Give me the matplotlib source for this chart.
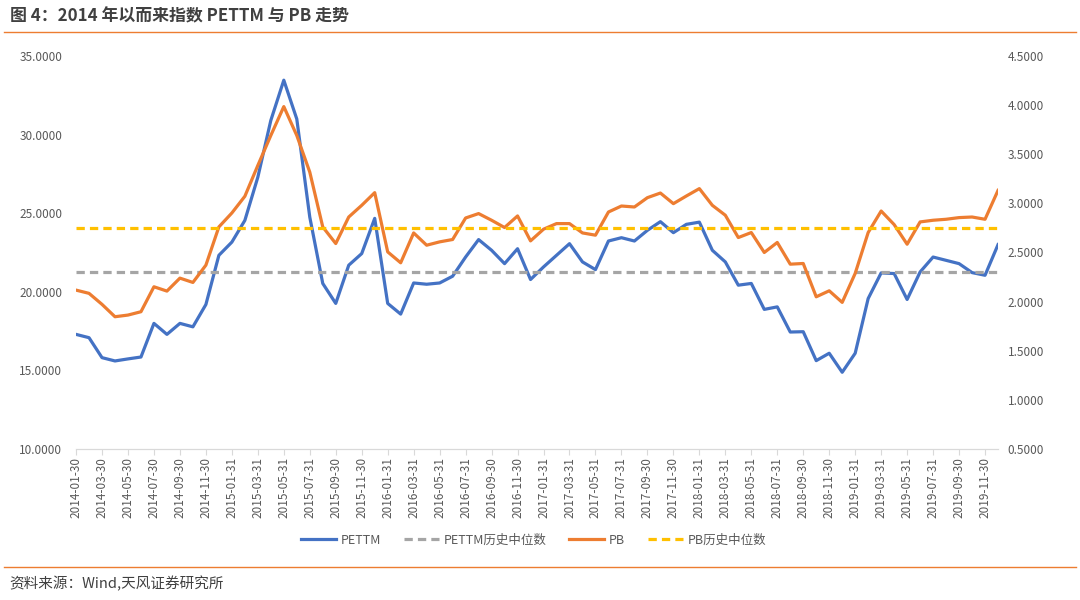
import numpy as np
import matplotlib
matplotlib.use("Agg")
import matplotlib.pyplot as plt
from matplotlib.lines import Line2D
from matplotlib.ticker import FormatStrFormatter

plt.rcParams['font.family'] = ['Noto Sans CJK SC', 'DejaVu Sans']

# 月度数据 2014-01 ~ 2019-12
pe = [17.29, 17.08, 15.81, 15.60, 15.73, 15.85, 17.99, 17.29, 17.99, 17.77, 19.19, 22.32,
      23.16, 24.54, 27.29, 30.90, 33.46, 30.99, 24.75, 20.53, 19.26, 21.69, 22.43, 24.67,
      19.26, 18.58, 20.56, 20.48, 20.56, 20.99, 22.21, 23.32, 22.64, 21.79, 22.74, 20.78,
      21.58, 22.32, 23.06, 21.90, 21.41, 23.23, 23.44, 23.23, 23.91, 24.46, 23.76, 24.29,
      24.43, 22.64, 21.90, 20.42, 20.53, 18.88, 19.04, 17.44, 17.46, 15.62, 16.09, 14.88,
      16.09, 19.57, 21.20, 21.16, 19.51, 21.26, 22.21, 22.00, 21.79, 21.22, 21.05, 23.00]
pb = [2.117, 2.084, 1.972, 1.846, 1.863, 1.897, 2.151, 2.107, 2.239, 2.195, 2.371, 2.760,
      2.902, 3.072, 3.386, 3.691, 3.985, 3.691, 3.318, 2.760, 2.591, 2.861, 2.980, 3.109,
      2.506, 2.395, 2.699, 2.574, 2.608, 2.632, 2.851, 2.896, 2.828, 2.754, 2.872, 2.618,
      2.737, 2.794, 2.794, 2.699, 2.676, 2.912, 2.973, 2.963, 3.058, 3.105, 2.997, 3.075,
      3.150, 2.980, 2.879, 2.652, 2.703, 2.500, 2.602, 2.381, 2.388, 2.049, 2.110, 1.992,
      2.287, 2.703, 2.922, 2.784, 2.584, 2.811, 2.828, 2.838, 2.855, 2.861, 2.838, 3.132]
pe_median = 21.26
pb_median = 2.75

tick_labels = [
    "2014-01-30", "2014-03-30", "2014-05-30", "2014-07-30", "2014-09-30", "2014-11-30",
    "2015-01-31", "2015-03-31", "2015-05-31", "2015-07-31", "2015-09-30", "2015-11-30",
    "2016-01-31", "2016-03-31", "2016-05-31", "2016-07-31", "2016-09-30", "2016-11-30",
    "2017-01-31", "2017-03-31", "2017-05-31", "2017-07-31", "2017-09-30", "2017-11-30",
    "2018-01-31", "2018-03-31", "2018-05-31", "2018-07-31", "2018-09-30", "2018-11-30",
    "2019-01-31", "2019-03-31", "2019-05-31", "2019-07-31", "2019-09-30", "2019-11-30",
]

x = np.arange(len(pe))
text_c = "#595959"

fig = plt.figure(figsize=(10.8, 6), dpi=100)
ax = fig.add_axes([0.0704, 0.2517, 0.8537, 0.655])
ax2 = ax.twinx()

l1, = ax.plot(x, pe, color="#4472C4", lw=2.3, label="PETTM", solid_joinstyle="round")
l2, = ax.plot(x, [pe_median] * len(x), color="#A5A5A5", lw=2.3, dashes=(2.6, 1.6),
              label="PETTM历史中位数")
l3, = ax2.plot(x, pb, color="#ED7D31", lw=2.3, label="PB", solid_joinstyle="round")
l4, = ax2.plot(x, [pb_median] * len(x), color="#FFC000", lw=2.3, dashes=(2.6, 1.6),
               label="PB历史中位数")

ax.set_xlim(0, len(x) - 1)
ax.set_ylim(10, 35)
ax2.set_ylim(0.5, 4.5)
ax.set_yticks(np.arange(10, 35.1, 5))
ax2.set_yticks(np.arange(0.5, 4.51, 0.5))
ax.yaxis.set_major_formatter(FormatStrFormatter("%.4f"))
ax2.yaxis.set_major_formatter(FormatStrFormatter("%.4f"))

ax.set_xticks(x[::2])
ax.set_xticklabels(tick_labels, rotation=90, fontsize=8.5, color=text_c)
ax.tick_params(axis="x", length=4, width=0.8, color="#D9D9D9", pad=2)
ax.tick_params(axis="y", length=0, pad=10, labelsize=8.5, labelcolor=text_c)
ax2.tick_params(axis="y", length=0, pad=7, labelsize=8.5, labelcolor=text_c)

for a in (ax, ax2):
    for s in ("top", "left", "right"):
        a.spines[s].set_visible(False)
    a.spines["bottom"].set_color("#D9D9D9")

fig.legend(handles=[l1, l2, l3, l4], loc="center", bbox_to_anchor=(0.494, 0.1),
           ncol=4, frameon=False, fontsize=9, handlelength=2.8, columnspacing=1.8,
           handletextpad=0.4, labelcolor=text_c)

# 标题与来源
fig.text(0.009, 0.973, "图 4：2014 年以而来指数 PETTM 与 PB 走势", fontsize=12.2,
         fontweight="bold", color="#404040", va="center", ha="left")
fig.add_artist(Line2D([0.004, 0.996], [0.947, 0.947], color="#ED7D31", lw=1.0))
fig.add_artist(Line2D([0.004, 0.996], [0.055, 0.055], color="#ED7D31", lw=1.0))
fig.text(0.009, 0.027, "资料来源：Wind,天风证券研究所", fontsize=10.5, color="#404040",
         va="center", ha="left")

fig.savefig("out.png", dpi=100)
